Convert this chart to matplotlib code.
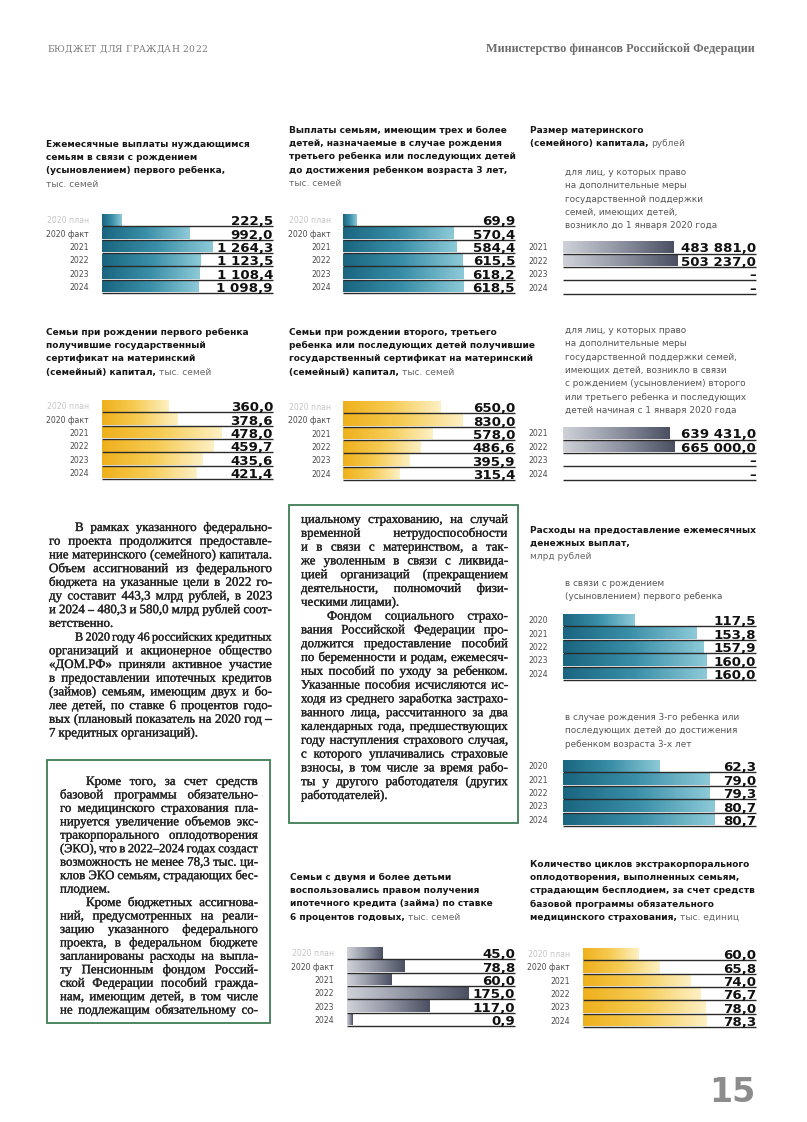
import numpy as np
import matplotlib
matplotlib.use('Agg')
import matplotlib.pyplot as plt
import matplotlib.patheffects as pe
from matplotlib.colors import LinearSegmentedColormap
from matplotlib.transforms import blended_transform_factory
from matplotlib.patches import Rectangle

# ---------------- data ----------------
years_plan = ['2020 план', '2020 факт', '2021', '2022', '2023', '2024']
years_4 = ['2021', '2022', '2023', '2024']
years_5 = ['2020', '2021', '2022', '2023', '2024']

first_child_payments = [222.5, 992.0, 1264.3, 1123.5, 1108.4, 1098.9]
third_child_payments = [69.9, 570.4, 584.4, 615.5, 618.2, 618.5]
matcap_before_2020 = [483881.0, 503237.0, None, None]
cert_first_child = [360.0, 378.6, 478.0, 459.7, 435.6, 421.4]
cert_second_child = [650.0, 830.0, 578.0, 486.6, 395.9, 315.4]
matcap_after_2020 = [639431.0, 665000.0, None, None]
spend_first_child = [117.5, 153.8, 157.9, 160.0, 160.0]
spend_third_child = [62.3, 79.0, 79.3, 80.7, 80.7]
mortgage_families = [45.0, 78.8, 60.0, 175.0, 117.0, 0.9]
ivf_cycles = [60.0, 65.8, 74.0, 76.7, 78.0, 78.3]

# ---------------- figure ----------------
W, H = 807, 1122
fig = plt.figure(figsize=(W / 100, H / 100), dpi=100)
fig.patch.set_facecolor('white')
bg = fig.add_axes([0, 0, 1, 1])
bg.set_xlim(0, W)
bg.set_ylim(H, 0)
bg.axis('off')
renderer = fig.canvas.get_renderer()

SANS = 'DejaVu Sans'
SERIF = 'Liberation Serif'
BODY_COL = '#222222'
BOLDEN = [pe.withStroke(linewidth=0.22, foreground=BODY_COL)]

blue = LinearSegmentedColormap.from_list('b', ['#1a6580', '#3a8fa8', '#8dcad8'])
yellow = LinearSegmentedColormap.from_list('y', ['#efb01c', '#f6cc55', '#fdf0c4'])
gray = LinearSegmentedColormap.from_list('g', ['#d0d2d9', '#9195a3', '#4a4f62'])


def width(t):
    return t.get_window_extent(renderer).width


def fmt(v):
    if v is None:
        return '–'
    s = f'{v:,.1f}'
    return s.replace(',', '#').replace('.', ',').replace('#', ' ')


def bar_chart(box, labels, values, cmap, lo, hi, label_right):
    x0, x1, ytop, ybot = box
    ax = fig.add_axes([x0 / W, 1 - ybot / H, (x1 - x0) / W, (ybot - ytop) / H])
    ax.patch.set_alpha(0)
    n = len(labels)
    pos = np.arange(n)
    widths = [0 if v is None else v - lo for v in values]
    bars = ax.barh(pos, widths, left=lo, height=0.9, color='none', linewidth=0)
    grad = np.linspace(0, 1, 256).reshape(1, -1)
    for b, v in zip(bars, values):
        if v is None:
            continue
        im = ax.imshow(grad, cmap=cmap, aspect='auto', interpolation='bilinear',
                       extent=(b.get_x(), b.get_x() + b.get_width(),
                               b.get_y() + b.get_height(), b.get_y()), zorder=2)
        im.set_clip_path(b)
    ax.set_xlim(lo, hi)
    ax.set_ylim(n - 0.5, -0.5)
    tr = blended_transform_factory(ax.transAxes, ax.transData)
    for i, v in enumerate(values):
        ax.plot([0, 1], [i + 0.5, i + 0.5], transform=tr, color='#2a2a2a', lw=1.0,
                clip_on=False, zorder=3, solid_capstyle='butt')
        ax.text(1.0, i + 0.42, fmt(v), transform=tr, ha='right', va='baseline',
                fontsize=9.6, fontweight='bold', color='#111111', family=SANS, zorder=4)
    ax.set_yticks(pos)
    ax.set_yticklabels(labels, fontsize=5.6, family=SANS)
    for k, tl in enumerate(ax.get_yticklabels()):
        tl.set_color('#c6c6c6' if labels[k] == '2020 план' else '#4a4a4a')
    ax.tick_params(axis='y', length=0, pad=(x0 - label_right) * 0.72)
    ax.set_xticks([])
    for s in ax.spines.values():
        s.set_visible(False)
    return ax


def title(x, yc, lines, unit=None, unit_newline=False, step=13.2, size=6.45):
    t = None
    for k, ln in enumerate(lines):
        t = bg.text(x, yc + k * step + 3, ln, fontsize=size, fontweight='bold',
                    color='#161616', family=SANS, va='baseline')
    if unit:
        if unit_newline:
            bg.text(x, yc + len(lines) * step + 3, unit, fontsize=size, color='#666666',
                    family=SANS, va='baseline')
        else:
            bg.text(x + width(t) + 3, yc + (len(lines) - 1) * step + 3, unit, fontsize=size,
                    color='#666666', family=SANS, va='baseline')


def subtitle(x, yc, lines, step=13.3, size=6.4):
    for k, ln in enumerate(lines):
        bg.text(x, yc + k * step + 3, ln, fontsize=size, color='#555555', family=SANS,
                va='baseline')


def body(x0, x1, y0, step, paragraphs, size=9.3, indent=26, mingap=2.6):
    y = y0 + 4
    for lines, ind, just_last in paragraphs:
        for k, line in enumerate(lines):
            xs = x0 + (indent if (k == 0 and ind) else 0)
            avail = x1 - xs
            last = (k == len(lines) - 1) and not just_last
            words = line.split(' ')
            ts = [bg.text(0, y, w, fontsize=size, family=SERIF, color=BODY_COL,
                          va='baseline', path_effects=BOLDEN) for w in words]
            ws = [width(t) for t in ts]
            need = sum(ws) + (len(words) - 1) * mingap
            if need > avail:
                f = avail / need
                for t in ts:
                    t.set_fontsize(size * f)
                ws = [width(t) for t in ts]
            if last or len(words) == 1:
                gap = 3.0 * ts[0].get_fontsize() / size
            else:
                gap = (avail - sum(ws)) / (len(words) - 1)
            cx = xs
            for t, wd in zip(ts, ws):
                t.set_x(cx)
                cx += wd + gap
            y += step


# ---------------- header ----------------
hdr = 'БЮДЖЕТ ДЛЯ ГРАЖДАН 2022'
HS = 6.6
t = bg.text(0, 0, hdr, fontsize=HS, family='DejaVu Serif')
nat = width(t)
t.remove()
extra = (207 - 47 - nat) / (len(hdr) - 1)
for i, ch in enumerate(hdr):
    if i == 0:
        px = 0
    else:
        tp = bg.text(0, 0, hdr[:i] + '.', fontsize=HS, family='DejaVu Serif')
        td = bg.text(0, 0, '.', fontsize=HS, family='DejaVu Serif')
        px = width(tp) - width(td)
        tp.remove()
        td.remove()
    bg.text(47 + px + i * extra, 52, ch, fontsize=HS, family='DejaVu Serif', color='#7a7a7a',
            va='baseline')
t = bg.text(755, 52, 'Министерство финансов Российской Федерации', fontsize=8,
            family='Liberation Serif', fontweight='bold', color='#6e6e6e', ha='right',
            va='baseline')
t.set_fontsize(8 * (755 - 487) / width(t))

# ---------------- chart titles ----------------
title(46, 144, ['Ежемесячные выплаты нуждающимся', 'семьям в связи с рождением',
                '(усыновлением) первого ребенка,'], 'тыс. семей', unit_newline=True)
title(289, 130, ['Выплаты семьям, имеющим трех и более', 'детей, назначаемые в случае рождения',
                 'третьего ребенка или последующих детей', 'до достижения ребенком возраста 3 лет,'],
      'тыс. семей', unit_newline=True)
title(530, 130, ['Размер материнского', '(семейного) капитала,'], 'рублей')
subtitle(565, 172, ['для лиц, у которых право', 'на дополнительные меры',
                    'государственной поддержки', 'семей, имеющих детей,',
                    'возникло до 1 января 2020 года'])
title(46, 332, ['Семьи при рождении первого ребенка', 'получившие государственный',
                'сертификат на материнский', '(семейный) капитал,'], 'тыс. семей')
title(289, 332, ['Семьи при рождении второго, третьего', 'ребенка или последующих детей получившие',
                 'государственный сертификат на материнский', '(семейный) капитал,'], 'тыс. семей')
subtitle(565, 330, ['для лиц, у которых право', 'на дополнительные меры',
                    'государственной поддержки семей,', 'имеющих детей, возникло в связи',
                    'с рождением (усыновлением) второго', 'или третьего ребенка и последующих',
                    'детей начиная с 1 января 2020 года'])
title(530, 530, ['Расходы на предоставление ежемесячных', 'денежных выплат,'], 'млрд рублей',
      unit_newline=True)
subtitle(565, 583, ['в связи с рождением', '(усыновлением) первого ребенка'])
subtitle(565, 717, ['в случае рождения 3-го ребенка или', 'последующих детей до достижения',
                    'ребенком возраста 3-х лет'])
title(290, 877, ['Семьи с двумя и более детьми', 'воспользовались правом получения',
                 'ипотечного кредита (займа) по ставке', '6 процентов годовых,'], 'тыс. семей')
title(530, 864, ['Количество циклов экстракорпорального', 'оплодотворения, выполненных семьям,',
                 'страдающим бесплодием, за счет средств', 'базовой программы обязательного',
                 'медицинского страхования,'], 'тыс. единиц')

# ---------------- charts ----------------
bar_chart((102, 273, 213, 293), years_plan, first_child_payments, blue, 0, 1948, 89)
bar_chart((343, 515, 213, 293), years_plan, third_child_payments, blue, 0, 886, 331)
bar_chart((563, 756, 240, 294), years_4, matcap_before_2020, gray, 0, 844600, 548)
bar_chart((102, 273, 399, 479), years_plan, cert_first_child, yellow, 211, 592, 89)
bar_chart((343, 515, 400, 480), years_plan, cert_second_child, yellow, -150, 1255, 331)
bar_chart((563, 756, 426, 480), years_4, matcap_after_2020, gray, 0, 1156000, 548)
bar_chart((563, 756, 613, 680), years_5, spend_first_child, blue, 75, 189, 548)
bar_chart((563, 756, 759, 826), years_5, spend_third_child, blue, 30.2, 94.7, 548)
bar_chart((347, 515, 946, 1026), years_plan, mortgage_families, gray, -8, 246, 334)
bar_chart((583, 756, 947, 1027), years_plan, ivf_cycles, yellow, 45.2, 91.7, 570)

# ---------------- body text ----------------
body(49, 272, 527, 13.7, [
    (['В рамках указанного федерально-', 'го проекта продолжится предоставле-',
      'ние материнского (семейного) капитала.', 'Объем ассигнований из федерального',
      'бюджета на указанные цели в 2022 го-', 'ду составит 443,3 млрд рублей, в 2023',
      'и 2024 – 480,3 и 580,0 млрд рублей соот-', 'ветственно.'], True, False),
    (['В 2020 году 46 российских кредитных', 'организаций и акционерное общество',
      '«ДОМ.РФ» приняли активное участие', 'в предоставлении ипотечных кредитов',
      '(займов) семьям, имеющим двух и бо-', 'лее детей, по ставке 6 процентов годо-',
      'вых (плановый показатель на 2020 год –', '7 кредитных организаций).'], True, False),
])

bg.add_patch(Rectangle((289, 505), 229, 318, fill=False, edgecolor='#3f7d55', lw=1.3))
body(301, 508, 519, 13.8, [
    (['циальному страхованию, на случай', 'временной нетрудоспособности',
      'и в связи с материнством, а так-', 'же уволенным в связи с ликвида-',
      'цией организаций (прекращением', 'деятельности, полномочий физи-',
      'ческими лицами).'], False, False),
    (['Фондом социального страхо-', 'вания Российской Федерации про-',
      'должится предоставление пособий', 'по беременности и родам, ежемесяч-',
      'ных пособий по уходу за ребенком.', 'Указанные пособия исчисляются ис-',
      'ходя из среднего заработка застрахо-', 'ванного лица, рассчитанного за два',
      'календарных года, предшествующих', 'году наступления страхового случая,',
      'с которого уплачивались страховые', 'взносы, в том числе за время рабо-',
      'ты у другого работодателя (других', 'работодателей).'], True, False),
])

bg.add_patch(Rectangle((47, 760), 223, 263, fill=False, edgecolor='#3f7d55', lw=1.3))
body(60, 258, 781, 13.45, [
    (['Кроме того, за счет средств', 'базовой программы обязательно-',
      'го медицинского страхования пла-', 'нируется увеличение объемов экс-',
      'тракорпорального оплодотворения', '(ЭКО), что в 2022–2024 годах создаст',
      'возможность не менее 78,3 тыс. ци-', 'клов ЭКО семьям, страдающих бес-',
      'плодием.'], True, False),
    (['Кроме бюджетных ассигнова-', 'ний, предусмотренных на реали-',
      'зацию указанного федерального', 'проекта, в федеральном бюджете',
      'запланированы расходы на выпла-', 'ту Пенсионным фондом Россий-',
      'ской Федерации пособий гражда-', 'нам, имеющим детей, в том числе',
      'не подлежащим обязательному со-'], True, True),
])

# ---------------- page number ----------------
bg.text(756, 1092, '15', fontsize=24, fontweight='bold', color='#8c8c8c', family=SANS,
        ha='right', va='center')

fig.savefig('out.png', dpi=100, facecolor='white')
